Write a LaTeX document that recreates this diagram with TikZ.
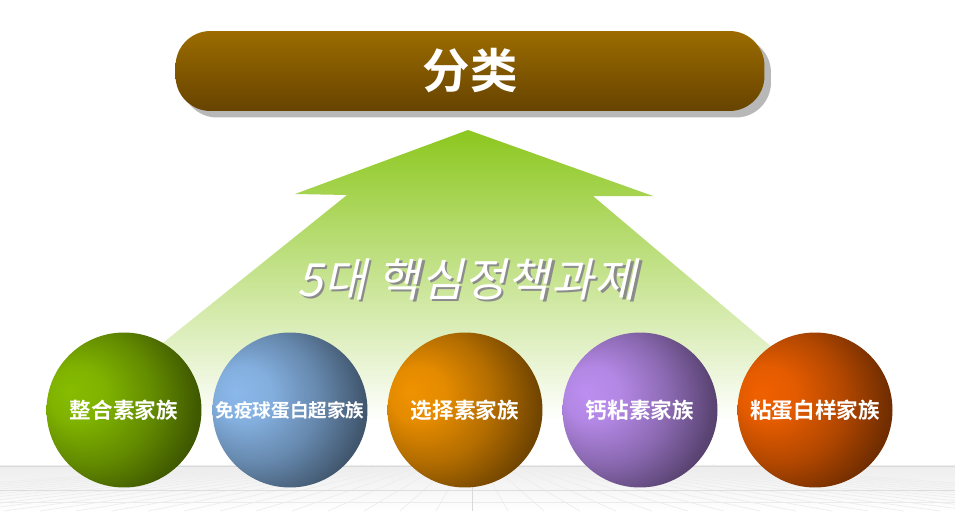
\documentclass[tikz,border=0pt]{standalone}
\usepackage{fontspec}
\newfontfamily\zhfont{Noto Sans CJK SC Bold}
\newfontfamily\krfont{Noto Sans CJK KR}[FakeSlant=0.22, LetterSpace=3]
\usetikzlibrary{positioning, shadows}

\definecolor{barTop}{HTML}{9C6C00}
\definecolor{barBot}{HTML}{664300}
\definecolor{arrGreen}{HTML}{8CC71E}
\definecolor{cGreen}{HTML}{86BC00}
\definecolor{cBlue}{HTML}{8AB8EA}
\definecolor{cOrange}{HTML}{F09200}
\definecolor{cPurple}{HTML}{BC8EF0}
\definecolor{cRed}{HTML}{F06000}
\colorlet{ballcol}{gray}

\pgfdeclareradialshading[ballcol]{globe}{\pgfpoint{-18bp}{6bp}}{%
  color(0bp)=(ballcol);
  color(9bp)=(ballcol!95!black);
  color(21bp)=(ballcol!74!black);
  color(32bp)=(ballcol!48!black);
  color(44bp)=(ballcol!33!black);
  color(60bp)=(ballcol!30!black)}

\tikzset{
  ball tint/.code={\colorlet{ballcol}{#1}},
  ball/.style={circle, minimum size=3.1cm, inner sep=0pt, shade, shading=globe,
    ball tint=#1, text=white, font=\zhfont\fontsize{12.3}{12.3}\selectfont},
  ttl/.style={rounded corners=0.7cm, minimum width=11.78cm, minimum height=1.6cm,
    top color=barTop, bottom color=barBot, text=white,
    font=\zhfont\fontsize{27}{27}\selectfont,
    drop shadow={shadow xshift=0.13cm, shadow yshift=-0.13cm, opacity=1, fill=black!28}},
  kr/.style={font=\krfont\fontsize{26}{26}\selectfont}
}

\begin{document}
\begin{tikzpicture}[x=0.02cm, y=-0.02cm]
\useasboundingbox (0,0) rectangle (955,511);
\fill[white] (0,0) rectangle (955,511);

% floor
\fill[top color=black!7, bottom color=white] (0,465) rectangle (955,511);
\foreach \i in {-24,...,24}
  \draw[black!7] (472+\i*10,465) -- (472+\i*36,511);
\draw[black!15] (0,466) -- (955,466);
\draw[black!13] (0,490) -- (955,490);
\draw[black!8] (0,502) -- (955,502);
\draw[black!15] (472,465) -- (472,511);

% big arrow
\shade[top color=arrGreen, bottom color=white]
  (468,130) -- (653,196) -- (593,196) -- (858,420) -- (67,420)
  -- (347,195) -- (295,194) -- cycle;

% title
\node[ttl] (cls) at (470,71) {分类};

% slogan
\node[kr, text=black!45] (sloganshade) at (469.5,281.5) {5대 핵심정책과제};
\node[kr, text=white] (slogan) at (467,279) {5대 핵심정책과제};

% families
\node[ball=cGreen] (integrin) at (124,410) {整合素家族};
\node[ball=cBlue, font=\zhfont\fontsize{10.6}{10.6}\selectfont] (igsf) at (290,410) {免疫球蛋白超家族};
\node[ball=cOrange] (selectin) at (465,410) {选择素家族};
\node[ball=cPurple] (cadherin) at (640,410) {钙粘素家族};
\node[ball=cRed] (mucin) at (815,410) {粘蛋白样家族};
\end{tikzpicture}
\end{document}
